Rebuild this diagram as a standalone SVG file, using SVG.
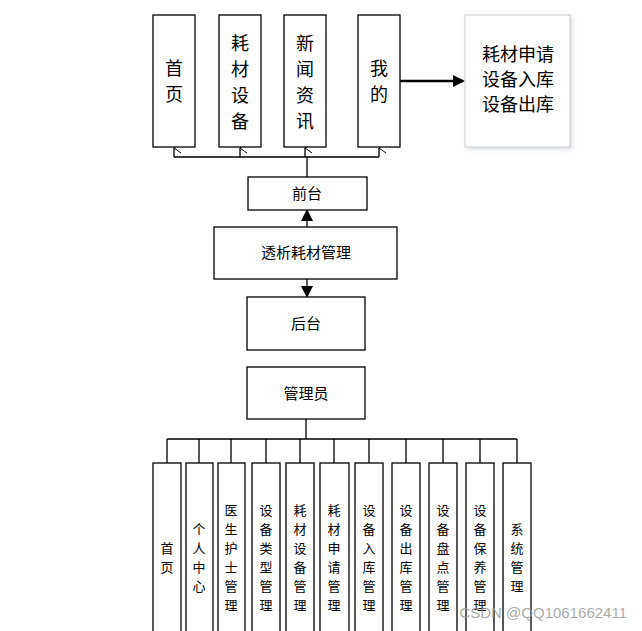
<svg xmlns="http://www.w3.org/2000/svg" width="642" height="631" viewBox="0 0 642 631">
<defs>
<style>
.b{fill:#fff;stroke:#000;stroke-width:1.3}
.t{font-family:"Noto Sans CJK SC",sans-serif;font-size:18px;text-anchor:middle}
.s{font-family:"Noto Sans CJK SC",sans-serif;font-size:13px;text-anchor:middle}
.m{font-family:"Noto Sans CJK SC",sans-serif;font-size:15px;text-anchor:middle}
.c{fill:none;stroke:#000;stroke-width:1.3}
</style>
<marker id="o" markerWidth="12" markerHeight="9" refX="6" refY="1" orient="auto" markerUnits="userSpaceOnUse" viewBox="0 0 12 9"><path d="M1,8 L6,1 L11,8" fill="none" stroke="#000"/></marker>
<marker id="f" markerWidth="12" markerHeight="12" refX="10" refY="6" orient="auto" markerUnits="userSpaceOnUse" viewBox="0 0 12 12"><path d="M0,0 L12,6 L0,12 Z" fill="#000"/></marker>
<filter id="sh"><feDropShadow dx="2" dy="2" stdDeviation="2" flood-color="#9ab" flood-opacity="0.4"/></filter>
</defs>
<rect width="642" height="631" fill="#fff"/>
<g id="connectors">
<path class="c" d="M307 177V157M174 157H379"/>
<path class="c" d="M174 157V148" marker-end="url(#o)"/>
<path class="c" d="M240 157V148" marker-end="url(#o)"/>
<path class="c" d="M305 157V148" marker-end="url(#o)"/>
<path class="c" d="M379 157V148" marker-end="url(#o)"/>
<path d="M400 81H463" stroke="#000" stroke-width="2.5" fill="none" marker-end="url(#f)"/>
<path class="c" d="M307 227V211" marker-end="url(#f)"/>
<path class="c" d="M307 279V296" marker-end="url(#f)"/>
<path class="c" d="M306 419V439M167 439H517M167 439V463M199 439V463M231 439V463M266 439V463M300 439V463M334 439V463M369 439V463M406 439V463M443 439V463M480 439V463M517 439V463"/>
</g>
<g id="n1"><rect class="b" x="153" y="15" width="42" height="132"/><text class="t"><tspan x="174" y="75">首</tspan><tspan x="174" y="101">页</tspan></text></g>
<g id="n2"><rect class="b" x="219" y="15" width="42" height="132"/><text class="t"><tspan x="240" y="50">耗</tspan><tspan x="240" y="76">材</tspan><tspan x="240" y="102">设</tspan><tspan x="240" y="128">备</tspan></text></g>
<g id="n3"><rect class="b" x="284" y="15" width="42" height="132"/><text class="t"><tspan x="305" y="50">新</tspan><tspan x="305" y="76">闻</tspan><tspan x="305" y="102">资</tspan><tspan x="305" y="128">讯</tspan></text></g>
<g id="n4"><rect class="b" x="358" y="15" width="42" height="132"/><text class="t"><tspan x="379" y="75">我</tspan><tspan x="379" y="101">的</tspan></text></g>
<g id="n5"><rect x="465" y="15" width="105" height="132" fill="#fff" stroke="#ccc" filter="url(#sh)"/><text class="t" font-size="17"><tspan x="518" y="61">耗材申请</tspan><tspan x="518" y="86">设备入库</tspan><tspan x="518" y="111">设备出库</tspan></text></g>
<g id="front"><rect class="b" x="248" y="177" width="119" height="33"/><text class="m" x="307" y="199">前台</text></g>
<g id="sys"><rect class="b" x="214" y="227" width="183" height="52"/><text class="m" x="306" y="258">透析耗材管理</text></g>
<g id="back"><rect class="b" x="247" y="297" width="118" height="53"/><text class="m" x="306" y="329">后台</text></g>
<g id="admin"><rect class="b" x="247" y="367" width="118" height="52"/><text class="m" x="306" y="399">管理员</text></g>
<g id="b1"><rect class="b" x="153" y="463" width="28" height="175"/><text class="s"><tspan x="167" y="553">首</tspan><tspan x="167" y="572">页</tspan></text></g>
<g id="b2"><rect class="b" x="186" y="463" width="27" height="175"/><text class="s"><tspan x="199" y="534">个</tspan><tspan x="199" y="553">人</tspan><tspan x="199" y="572">中</tspan><tspan x="199" y="591">心</tspan></text></g>
<g id="b3"><rect class="b" x="218" y="463" width="27" height="175"/><text class="s"><tspan x="231" y="515">医</tspan><tspan x="231" y="534">生</tspan><tspan x="231" y="553">护</tspan><tspan x="231" y="572">士</tspan><tspan x="231" y="591">管</tspan><tspan x="231" y="610">理</tspan></text></g>
<g id="b4"><rect class="b" x="252" y="463" width="28" height="175"/><text class="s"><tspan x="266" y="515">设</tspan><tspan x="266" y="534">备</tspan><tspan x="266" y="553">类</tspan><tspan x="266" y="572">型</tspan><tspan x="266" y="591">管</tspan><tspan x="266" y="610">理</tspan></text></g>
<g id="b5"><rect class="b" x="286" y="463" width="28" height="175"/><text class="s"><tspan x="300" y="515">耗</tspan><tspan x="300" y="534">材</tspan><tspan x="300" y="553">设</tspan><tspan x="300" y="572">备</tspan><tspan x="300" y="591">管</tspan><tspan x="300" y="610">理</tspan></text></g>
<g id="b6"><rect class="b" x="320" y="463" width="29" height="175"/><text class="s"><tspan x="334" y="515">耗</tspan><tspan x="334" y="534">材</tspan><tspan x="334" y="553">申</tspan><tspan x="334" y="572">请</tspan><tspan x="334" y="591">管</tspan><tspan x="334" y="610">理</tspan></text></g>
<g id="b7"><rect class="b" x="355" y="463" width="28" height="175"/><text class="s"><tspan x="369" y="515">设</tspan><tspan x="369" y="534">备</tspan><tspan x="369" y="553">入</tspan><tspan x="369" y="572">库</tspan><tspan x="369" y="591">管</tspan><tspan x="369" y="610">理</tspan></text></g>
<g id="b8"><rect class="b" x="392" y="463" width="28" height="175"/><text class="s"><tspan x="406" y="515">设</tspan><tspan x="406" y="534">备</tspan><tspan x="406" y="553">出</tspan><tspan x="406" y="572">库</tspan><tspan x="406" y="591">管</tspan><tspan x="406" y="610">理</tspan></text></g>
<g id="b9"><rect class="b" x="429" y="463" width="28" height="175"/><text class="s"><tspan x="443" y="515">设</tspan><tspan x="443" y="534">备</tspan><tspan x="443" y="553">盘</tspan><tspan x="443" y="572">点</tspan><tspan x="443" y="591">管</tspan><tspan x="443" y="610">理</tspan></text></g>
<g id="b10"><rect class="b" x="466" y="463" width="28" height="175"/><text class="s"><tspan x="480" y="515">设</tspan><tspan x="480" y="534">备</tspan><tspan x="480" y="553">保</tspan><tspan x="480" y="572">养</tspan><tspan x="480" y="591">管</tspan><tspan x="480" y="610">理</tspan></text></g>
<g id="b11"><rect class="b" x="503" y="463" width="28" height="175"/><text class="s"><tspan x="517" y="534">系</tspan><tspan x="517" y="553">统</tspan><tspan x="517" y="572">管</tspan><tspan x="517" y="591">理</tspan></text></g>
<text x="627" y="618" font-family="Liberation Sans,sans-serif" font-size="15" fill="#999" fill-opacity="0.85" text-anchor="end">CSDN @QQ1061662411</text>
</svg>
